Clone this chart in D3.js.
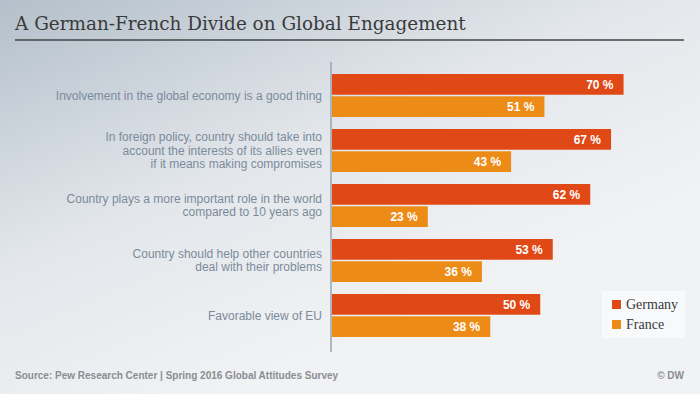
<!DOCTYPE html>
<html lang="en">
<head>
  <meta charset="UTF-8">
  <title>A German-French Divide on Global Engagement</title>
  <script src="https://cdn.jsdelivr.net/npm/d3@7"></script>
  <style>
    body { margin: 0; padding: 0; background: #f1f2f4; }
    svg { display: block; }
    .label { font-family: "Liberation Sans", Arial, sans-serif; font-size: 12px; fill: #7b8b9b; }
    .value { font-family: "Liberation Sans", Arial, sans-serif; font-size: 12px; font-weight: bold; fill: #fff; }
    .title { font-family: "DejaVu Serif", Georgia, serif; font-size: 18.4px; fill: #3a3a3a; }
    .legend text { font-family: "Liberation Serif", Georgia, serif; font-size: 14px; fill: #3a3a3a; }
    .footer { font-family: "Liberation Sans", Arial, sans-serif; font-size: 10px; font-weight: bold; fill: #8a8d91; }
  </style>
</head>
<body>
  <script>
    // data
    var questions = [
      ["Involvement in the global economy is a good thing"],
      ["In foreign policy, country should take into", "account the interests of its allies even", "if it means making compromises"],
      ["Country plays a more important role in the world", "compared to 10 years ago"],
      ["Country should help other countries", "deal with their problems"],
      ["Favorable view of EU"]
    ];
    var germany = [70, 67, 62, 53, 50];
    var france = [51, 43, 23, 36, 38];
    var seriesNames = ["Germany", "France"];
    var seriesColors = ["#e04816", "#ec8c17"];

    var width = 700, height = 394;

    var svg = d3.select("body").append("svg")
        .attr("width", width)
        .attr("height", height);

    // background gradient
    var defs = svg.append("defs");
    var bg = defs.append("linearGradient")
        .attr("id", "bg")
        .attr("x1", 0).attr("y1", 0)
        .attr("x2", 0.6).attr("y2", 0.8);
    bg.append("stop").attr("offset", "0%").attr("stop-color", "#b3bfca");
    bg.append("stop").attr("offset", "55%").attr("stop-color", "#e3e7eb");
    bg.append("stop").attr("offset", "100%").attr("stop-color", "#f1f2f4");

    svg.append("rect")
        .attr("width", width)
        .attr("height", height)
        .attr("fill", "url(#bg)");

    // title
    svg.append("text")
        .attr("class", "title")
        .attr("x", 15)
        .attr("y", 30)
        .text("A German-French Divide on Global Engagement");

    svg.append("line")
        .attr("x1", 15).attr("x2", 684)
        .attr("y1", 40).attr("y2", 40)
        .attr("stroke", "#444")
        .attr("stroke-width", 1.5);

    // scales
    var x = d3.scaleLinear()
        .domain([0, 100])
        .range([332, 332 + 416.5]);

    var y = d3.scaleBand()
        .domain(d3.range(questions.length))
        .range([68, 343])
        .paddingInner(0.218)
        .paddingOuter(0.109);

    var ySub = d3.scaleBand()
        .domain(seriesNames)
        .range([0, y.bandwidth()])
        .paddingInner(0.07);

    var rows = questions.map(function(q, i) {
      return { i: i, lines: q, values: [germany[i], france[i]] };
    });

    var group = svg.append("g")
      .selectAll("g")
      .data(rows)
      .enter().append("g")
        .attr("transform", function(d) { return "translate(0," + y(d.i) + ")"; });

    var bars = group.selectAll("g.bar")
      .data(function(d) {
        return d.values.map(function(v, k) { return { name: seriesNames[k], value: v, color: seriesColors[k] }; });
      })
      .enter().append("g")
        .attr("class", "bar");

    bars.append("rect")
        .attr("x", x(0))
        .attr("y", function(d) { return ySub(d.name); })
        .attr("width", function(d) { return x(d.value) - x(0); })
        .attr("height", ySub.bandwidth())
        .attr("fill", function(d) { return d.color; });

    bars.append("text")
        .attr("class", "value")
        .attr("x", function(d) { return x(d.value) - 10; })
        .attr("y", function(d) { return ySub(d.name) + ySub.bandwidth() / 2; })
        .attr("dy", "0.36em")
        .attr("text-anchor", "end")
        .text(function(d) { return d.value + " %"; });

    // category labels
    var lineHeight = 13.6;
    group.append("text")
        .attr("class", "label")
        .attr("text-anchor", "end")
        .each(function(d) {
          var t = d3.select(this);
          var n = d.lines.length;
          d.lines.forEach(function(line, k) {
            t.append("tspan")
              .attr("x", 322)
              .attr("y", y.bandwidth() / 2 + (k - (n - 1) / 2) * lineHeight)
              .attr("dy", "0.35em")
              .text(line);
          });
        });

    // axis line
    svg.append("line")
        .attr("x1", 331).attr("x2", 331)
        .attr("y1", 62).attr("y2", 352)
        .attr("stroke", "#97a5b2")
        .attr("stroke-width", 1.5);

    // legend
    var legend = svg.append("g").attr("class", "legend");
    legend.append("rect")
        .attr("x", 602).attr("y", 291)
        .attr("width", 83).attr("height", 47)
        .attr("fill", "#f8f9fa");

    var item = legend.selectAll("g")
      .data(seriesNames)
      .enter().append("g")
        .attr("transform", function(d, i) { return "translate(612," + (300 + i * 20) + ")"; });

    item.append("rect")
        .attr("width", 9)
        .attr("height", 9)
        .attr("fill", function(d, i) { return seriesColors[i]; });

    item.append("text")
        .attr("x", 14)
        .attr("y", 4.5)
        .attr("dy", "0.35em")
        .text(function(d) { return d; });

    // footer
    svg.append("text")
        .attr("class", "footer")
        .attr("x", 15)
        .attr("y", 379)
        .text("Source: Pew Research Center | Spring 2016 Global Attitudes Survey");

    svg.append("text")
        .attr("class", "footer")
        .attr("x", 684)
        .attr("y", 379)
        .attr("text-anchor", "end")
        .text("© DW");
  </script>
</body>
</html>
